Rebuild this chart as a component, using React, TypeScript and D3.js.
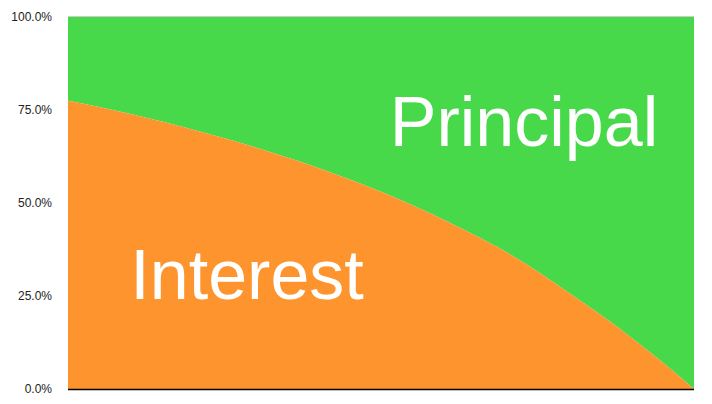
import React, { useEffect, useRef } from 'react';
import * as d3 from 'd3';

// share of each payment that goes to interest, read at every 5% of the loan term
const termShare = [
  0, 0.05, 0.1, 0.15, 0.2, 0.25, 0.3, 0.35, 0.4, 0.45, 0.5, 0.55, 0.6, 0.65,
  0.7, 0.75, 0.8, 0.85, 0.9, 0.95, 1,
];
const interestShare = [
  0.775, 0.758, 0.739, 0.719, 0.697, 0.674, 0.649, 0.622, 0.594, 0.563, 0.53,
  0.494, 0.455, 0.413, 0.368, 0.316, 0.259, 0.2, 0.138, 0.071, 0,
];
const yTicks = [0, 0.25, 0.5, 0.75, 1];
const seriesLabels = ['Interest', 'Principal'];

const App: React.FC = () => {
  const ref = useRef<SVGSVGElement>(null);

  useEffect(() => {
    if (!ref.current) return;
    const svg = d3.select(ref.current);
    svg.selectAll('*').remove();

    const margin = { top: 17, right: 18, bottom: 15, left: 68 };
    const width = 712 - margin.left - margin.right;
    const height = 404 - margin.top - margin.bottom;

    const g = svg
      .append('g')
      .attr('transform', `translate(${margin.left},${margin.top})`);

    const x = d3.scaleLinear().domain([0, 1]).range([0, width]);
    const y = d3.scaleLinear().domain([0, 1]).range([height, 0]);

    const data = termShare.map((t, i) => ({ t, v: interestShare[i] }));

    // principal fills everything above the interest share
    g.append('path')
      .datum(data)
      .attr('fill', '#47d94a')
      .attr(
        'd',
        d3
          .area<{ t: number; v: number }>()
          .x((d) => x(d.t))
          .y0(y(1))
          .y1((d) => y(d.v))
          .curve(d3.curveMonotoneX)
      );

    g.append('path')
      .datum(data)
      .attr('fill', '#fe942d')
      .attr(
        'd',
        d3
          .area<{ t: number; v: number }>()
          .x((d) => x(d.t))
          .y0(y(0))
          .y1((d) => y(d.v))
          .curve(d3.curveMonotoneX)
      );

    // thin top rule
    g.append('line')
      .attr('x1', 0)
      .attr('x2', width)
      .attr('y1', y(1) - 0.5)
      .attr('y2', y(1) - 0.5)
      .attr('stroke', '#cccccc')
      .attr('stroke-width', 1);

    // y axis labels
    const yAxis = d3
      .axisLeft(y)
      .tickValues(yTicks)
      .tickFormat(d3.format('.1%'))
      .tickSize(0)
      .tickPadding(16);
    const ya = g.append('g').call(yAxis);
    ya.select('.domain').remove();
    ya.selectAll('text')
      .attr('font-family', 'Liberation Sans, Arial, sans-serif')
      .attr('font-size', 12)
      .attr('fill', '#222');

    // baseline
    g.append('line')
      .attr('x1', 0)
      .attr('x2', width)
      .attr('y1', y(0) + 0.5)
      .attr('y2', y(0) + 0.5)
      .attr('stroke', '#000')
      .attr('stroke-width', 1.5);

    g.append('text')
      .attr('x', x(0.0996))
      .attr('y', y(0.242))
      .attr('font-family', 'Liberation Sans, Arial, sans-serif')
      .attr('font-size', 70)
      .attr('fill', '#fff')
      .text(seriesLabels[0]);

    g.append('text')
      .attr('x', x(0.514))
      .attr('y', y(0.653))
      .attr('font-family', 'Liberation Sans, Arial, sans-serif')
      .attr('font-size', 70)
      .attr('fill', '#fff')
      .text(seriesLabels[1]);
  }, []);

  return (
    <svg
      ref={ref}
      width={712}
      height={404}
      style={{ position: 'absolute', left: 0, top: 0, background: '#fff' }}
    />
  );
};

export default App;
